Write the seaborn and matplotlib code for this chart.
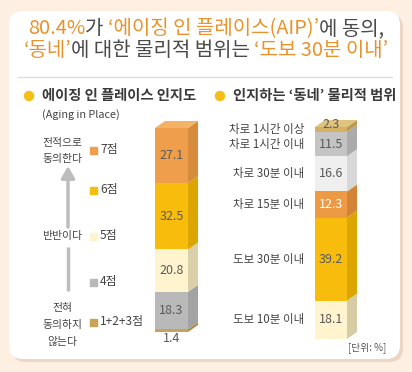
import matplotlib
matplotlib.use("Agg")
import matplotlib.pyplot as plt
import seaborn as sns
from matplotlib.patches import FancyBboxPatch, Rectangle, Circle

# data
aip_labels = ["1+2+3점", "4점", "5점", "6점", "7점"]
aip_values = [1.4, 18.3, 20.8, 32.5, 27.1]
range_labels = ["도보 10분 이내", "도보 30분 이내", "차로 15분 이내",
                "차로 30분 이내", "차로 1시간 이내", "차로 1시간 이상"]
range_values = [18.1, 39.2, 12.3, 16.6, 11.5, 2.3]

# styles
aip_colors = ["#C8A458", "#B9B9B9", "#FFF4CE", "#F8BD0C", "#EF9F4B"]
aip_sides = ["#AE8C45", "#A3A3A3", "#D9D0AA", "#DDA500", "#D88B3B"]
aip_top = "#F4B266"
range_colors = ["#FFF4CE", "#F8BD0C", "#EE9A45", "#EFEFEF", "#C4C4C4", "#D3B264"]
range_sides = ["#D5CCA6", "#DDA500", "#D48436", "#D8D8D8", "#ABABAB", "#BB9A4E"]
range_top = "#E0C47E"
range_text = ["#5A5A5A", "#5A5A5A", "white", "#5A5A5A", "#5A5A5A", "#5A5A5A"]

ORANGE = "#E8922B"
GRAY = "#4A4A4A"
DARK = "#3A3A3A"

sns.set_style("white")
plt.rcParams["font.family"] = ["Noto Sans CJK KR", "DejaVu Sans"]

W, H = 412, 372
fig = plt.figure(figsize=(W / 100, H / 100), dpi=100)
fig.patch.set_facecolor("#FDF0E3")

bg = fig.add_axes([0, 0, 1, 1])
bg.set_xlim(0, W)
bg.set_ylim(H, 0)
bg.axis("off")

bg.add_patch(FancyBboxPatch((12, 14), 391, 348, boxstyle="round,pad=0,rounding_size=14",
                            fc="#ECD5C2", ec="none"))
bg.add_patch(FancyBboxPatch((9, 11), 391, 348, boxstyle="round,pad=0,rounding_size=14",
                            fc="white", ec="none"))

renderer = fig.canvas.get_renderer()


def text_width(s, size):
    t = bg.text(0, 0, s + "l", fontsize=size)
    w = t.get_window_extent(renderer).width
    t.remove()
    t = bg.text(0, 0, "l", fontsize=size)
    w -= t.get_window_extent(renderer).width
    t.remove()
    return w


def colored_line(y, parts, size, cx=206):
    xs, x = [], 0
    for s, c in parts:
        xs.append(x)
        x += text_width(s, size)
    start = cx - x / 2
    for (s, c), px in zip(parts, xs):
        bg.text(start + px, y, s, color=c, fontsize=size, ha="left", va="center")


colored_line(29, [("80.4%", ORANGE), ("가 ", GRAY),
                  ("‘에이징 인 플레이스(AIP)’", ORANGE), ("에 동의,", GRAY)], 14.4)
colored_line(50, [("‘동네’", ORANGE), ("에 대한 물리적 범위는 ", GRAY),
                  ("‘도보 30분 이내’", ORANGE)], 14.4)
bg.plot([18, 392], [77, 77], color="#DDDDDD", lw=1)

# headers
bg.add_patch(Circle((29, 96), 4.5, color="#F6BE14"))
bg.text(42, 96, "에이징 인 플레이스 인지도", fontsize=10.3, fontweight="bold",
        color=DARK, va="center")
bg.text(42, 115, "(Aging in Place)", fontsize=7.8, color="#444444", va="center")
bg.add_patch(Circle((220, 96), 4.5, color="#F6BE14"))
bg.text(233, 96, "인지하는 ‘동네’ 물리적 범위", fontsize=10.3, fontweight="bold",
        color=DARK, va="center")

# left scale annotations
note_kw = dict(fontsize=7.8, color="#444444", ha="center", va="center")
bg.text(62, 143, "전적으로", **note_kw)
bg.text(62, 159, "동의한다", **note_kw)
bg.text(62, 236, "반반이다", **note_kw)
bg.text(62, 308, "전혀", **note_kw)
bg.text(62, 325, "동의하지", **note_kw)
bg.text(62, 342, "않는다", **note_kw)
bg.annotate("", xy=(68, 166), xytext=(68, 227),
            arrowprops=dict(arrowstyle="-|>,head_width=0.4,head_length=0.7",
                            color="#BDBDBD", lw=2.5, shrinkA=0, shrinkB=0))
bg.plot([68, 68], [247, 291], color="#BDBDBD", lw=2.5, solid_capstyle="butt")

legend_y = [322, 282, 236, 190, 150]
for lab, col, y in zip(aip_labels, aip_colors, legend_y):
    bg.add_patch(Rectangle((90, y - 3.5), 7, 7, color=col))
    bg.text(100, y, lab, fontsize=8.6, color="#444444", va="center")

bg.text(386, 348, "[단위: %]", fontsize=7, color="#555555", ha="right", va="center")


def bar_axes(left, right, top, bottom):
    return fig.add_axes([left / W, (H - bottom) / H, (right - left) / W, (bottom - top) / H])


def draw_bar(ax, values, colors, sides, top_color, px_unit, front_px, side_px=10, top_px=7):
    total = sum(values)
    dx = side_px / front_px
    dy = top_px / px_unit
    cum = []
    run = 0
    for v in values:
        cum.append((run, run + v))
        run += v
    for (b, t), c in reversed(list(zip(cum, colors))):
        sns.barplot(x=["bar"], y=[t], color=c, saturation=1, width=1,
                    linewidth=0, errorbar=None, ax=ax)
    for (b, t), c in zip(cum, sides):
        ax.fill([0.5, 0.5 + dx, 0.5 + dx, 0.5], [b, b + dy, t + dy, t],
                color=c, lw=0)
    ax.fill([-0.5, -0.5 + dx, 0.5 + dx, 0.5], [total, total + dy, total + dy, total],
            color=top_color, lw=0)
    ax.set_xlim(-0.5, 0.5 + dx)
    ax.set_ylim(0, total + dy)
    ax.axis("off")
    return cum, dy


ax_l = bar_axes(155, 198, 121, 332)
cum_l, dy_l = draw_bar(ax_l, aip_values, aip_colors, aip_sides, aip_top,
                       204 / sum(aip_values), 33)
for v, (b, t) in zip(aip_values, cum_l):
    y = (b + t) / 2 if v >= 5 else -3
    ax_l.text(0, y, f"{v}", ha="center", va="center", fontsize=9, color="#5A5A5A")

ax_r = bar_axes(315, 357, 120, 339)
cum_r, dy_r = draw_bar(ax_r, range_values, range_colors, range_sides, range_top,
                       212 / sum(range_values), 32)
for v, (b, t), lab, tc in zip(range_values, cum_r, range_labels, range_text):
    y = (b + t) / 2 if v >= 5 else t + dy_r * 0.4
    ax_r.text(0, y, f"{v}", ha="center", va="center", fontsize=9, color=tc)
    ax_r.annotate(lab, xy=(-0.5, (b + t) / 2), xytext=(-11, 0), textcoords="offset pixels",
                  ha="right", va="center", fontsize=8.3, color="#444444")

fig.savefig("out.png", dpi=100, facecolor=fig.get_facecolor())
